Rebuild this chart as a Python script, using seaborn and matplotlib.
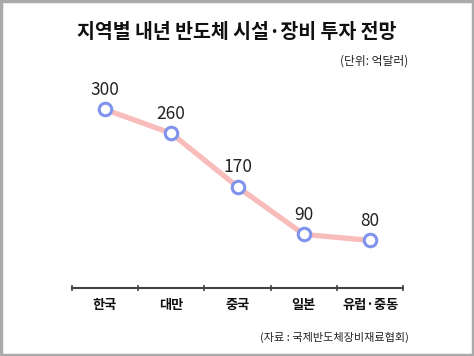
import matplotlib.pyplot as plt
import seaborn as sns
import numpy as np
from matplotlib.patches import Rectangle

# data
regions = ["한국", "대만", "중국", "일본", "유럽·중동"]
invest = [300, 260, 170, 90, 80]

sns.set_theme(style="white")
plt.rcParams['font.family'] = ['Noto Sans CJK KR', 'DejaVu Sans']

fig = plt.figure(figsize=(4.74, 3.56), dpi=100)
ax = fig.add_axes([0.1513, 0.191, 0.6996, 0.612])

pos = np.arange(len(regions))
sns.lineplot(x=pos, y=invest, ax=ax, color="#F8BDBB", linewidth=3.8,
             marker="o", markersize=9, markerfacecolor="white",
             markeredgecolor="#7F93EC", markeredgewidth=2.2)

for x, v in zip(pos, invest):
    ax.annotate(str(v), (x, v), xytext=(0, 14), textcoords="offset points",
                ha="center", va="center", fontsize=12.5, fontweight="medium",
                color="#222222")

ax.set_xlim(-0.5, len(regions) - 0.5)
ax.set_ylim(0, 366)
ax.set_xticks(pos)
ax.set_xticklabels(regions, fontsize=9.5, fontweight="bold", color="#111111")
ax.set_xticks(np.arange(-0.5, len(regions), 1), minor=True)
ax.tick_params(axis="x", which="major", length=0, pad=7)
ax.tick_params(axis="x", which="minor", length=4, width=1.2, direction="inout",
               color="#444444", bottom=True)
ax.set_yticks([])
for s in ["top", "right", "left"]:
    ax.spines[s].set_visible(False)
ax.spines["bottom"].set_color("#444444")
ax.spines["bottom"].set_linewidth(1.5)

fig.text(0.5, 0.91, "지역별 내년 반도체 시설·장비 투자 전망", ha="center", va="center",
         fontsize=14, fontweight="bold", color="#111111")
fig.text(0.862, 0.829, "(단위: 억달러)", ha="right", va="center", fontsize=8.5,
         color="#222222")
fig.text(0.862, 0.053, "(자료 : 국제반도체장비재료협회)", ha="right", va="center",
         fontsize=8, color="#222222")

# grey frame around the picture
fig.patches.append(Rectangle((0.003, 0.004), 0.994, 0.992, transform=fig.transFigure,
                             fill=False, edgecolor="#AAAAAA", linewidth=2.5))

fig.savefig("out.png", dpi=100)
